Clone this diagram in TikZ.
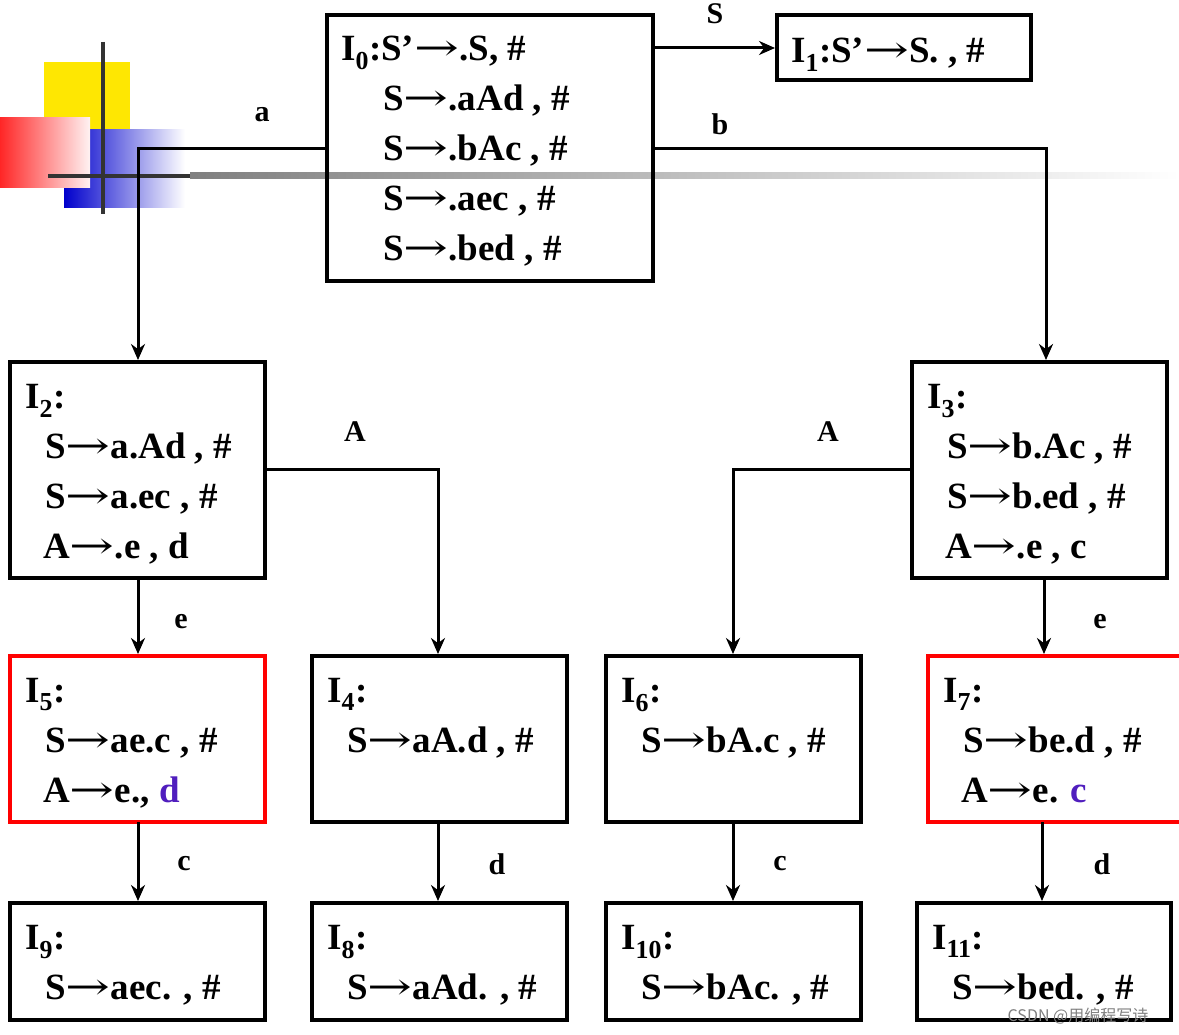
\documentclass[tikz,border=0pt]{standalone}
\usepackage{fontspec}
\setmainfont{Liberation Serif}
\newfontfamily\cjk{Noto Sans CJK SC}
\newfontfamily\arf{DejaVu Serif}
\usetikzlibrary{arrows.meta}
\definecolor{dpurple}{RGB}{80,30,190}
\newcommand{\ar}{\scalebox{1.45}[1]{\arf\mdseries →}}
\begin{document}
\begin{tikzpicture}[x=1pt,y=-1pt,
  box/.style={draw,line width=3.2pt},
  rbox/.style={draw=red,line width=3.2pt},
  txt/.style={anchor=north west,align=left,inner sep=0pt,font=\fontsize{37}{50}\selectfont\bfseries},
  lab/.style={font=\fontsize{30}{30}\selectfont\bfseries},
  arr/.style={line width=3pt,-{Stealth[length=16pt,width=14pt]}}]
\useasboundingbox (0,0) rectangle (1179,1035);
% background decoration
\fill[white] (0,0) rectangle (1179,1035);
\fill[yellow!90!orange] (44,62) rectangle (130,130);
\shade[left color=blue!80!black,right color=white] (64,130) rectangle (185,208);
\shade[left color=red!85,right color=red!5] (0,118) rectangle (90,188);
\draw[line width=4pt,black!80] (103,42) -- (103,214);
\draw[line width=4pt,black!80] (48,176) -- (190,176);
\shade[left color=black!50,right color=white] (190,173) rectangle (1179,179);
% boxes
\draw[box] (327,15) rectangle (653,281);
\draw[box] (777,15) rectangle (1031,80);
\draw[box] (10,362) rectangle (265,578);
\draw[box] (912,362) rectangle (1167,578);
\draw[rbox] (10,656) rectangle (265,822);
\draw[box] (312,656) rectangle (567,822);
\draw[box] (606,656) rectangle (861,822);
\draw[rbox] (928,656) rectangle (1181,822);
\draw[box] (10,903) rectangle (265,1020);
\draw[box] (312,903) rectangle (567,1020);
\draw[box] (606,903) rectangle (861,1020);
\draw[box] (917,903) rectangle (1171,1020);
% texts
\node[txt] (t0) at (341,36) {I\textsubscript{0}:S’\ar.S, \#\\\hspace*{42pt}S\ar.aAd , \#\\\hspace*{42pt}S\ar.bAc , \#\\\hspace*{42pt}S\ar.aec , \#\\\hspace*{42pt}S\ar.bed , \#};
\node[txt] (t1) at (791,38) {I\textsubscript{1}:S’\ar S. , \#};
\node[txt] (t2) at (25,384) {I\textsubscript{2}:\\\hspace*{20pt}S\ar a.Ad , \#\\\hspace*{20pt}S\ar a.ec , \#\\\hspace*{18pt}A\ar.e , d};
\node[txt] (t3) at (927,384) {I\textsubscript{3}:\\\hspace*{20pt}S\ar b.Ac , \#\\\hspace*{20pt}S\ar b.ed , \#\\\hspace*{18pt}A\ar.e , c};
\node[txt] (t5) at (25,678) {I\textsubscript{5}:\\\hspace*{20pt}S\ar ae.c , \#\\\hspace*{18pt}A\ar e., \textcolor{dpurple}{d}};
\node[txt] (t4) at (327,678) {I\textsubscript{4}:\\\hspace*{20pt}S\ar aA.d , \#};
\node[txt] (t6) at (621,678) {I\textsubscript{6}:\\\hspace*{20pt}S\ar bA.c , \#};
\node[txt] (t7) at (943,678) {I\textsubscript{7}:\\\hspace*{20pt}S\ar be.d , \#\\\hspace*{18pt}A\ar e. \textcolor{dpurple}{c}};
\node[txt] (t9) at (25,925) {I\textsubscript{9}:\\\hspace*{20pt}S\ar aec. , \#};
\node[txt] (t8) at (327,925) {I\textsubscript{8}:\\\hspace*{20pt}S\ar aAd. , \#};
\node[txt] (t10) at (621,925) {I\textsubscript{10}:\\\hspace*{20pt}S\ar bAc. , \#};
\node[txt] (t11) at (932,925) {I\textsubscript{11}:\\\hspace*{20pt}S\ar bed. , \#};
% connectors
\coordinate (a0) at (327,149); \coordinate (a1) at (138,149); \coordinate (a2) at (138,360);
\coordinate (b0) at (653,149); \coordinate (b1) at (1046,149); \coordinate (b2) at (1046,360);
\draw[arr] (653,48) -- (775,48);
\draw[arr] (a0) -- (a1) -- (a2);
\draw[arr] (b0) -- (b1) -- (b2);
\draw[arr] (265,469) -- (438,469) -- (438,654);
\draw[arr] (912,469) -- (733,469) -- (733,654);
\draw[arr] (138,578) -- (138,654);
\draw[arr] (1044,578) -- (1044,654);
\draw[arr] (138,822) -- (138,901);
\draw[arr] (438,822) -- (438,901);
\draw[arr] (733,822) -- (733,901);
\draw[arr] (1042,822) -- (1042,901);
% labels
\node[lab] (lS) at (715,14) {S};
\node[lab] (la) at (262,115) {a};
\node[lab] (lb) at (720,124) {b};
\node[lab] (lA1) at (355,432) {A};
\node[lab] (lA2) at (828,432) {A};
\node[lab] (le1) at (181,622) {e};
\node[lab] (le2) at (1100,622) {e};
\node[lab] (lc1) at (184,864) {c};
\node[lab] (ld1) at (497,864) {d};
\node[lab] (lc2) at (780,864) {c};
\node[lab] (ld2) at (1102,864) {d};
\node[font=\fontsize{16}{16}\selectfont\cjk,text=gray] (wm) at (1078,1016) {CSDN @用编程写诗};
\end{tikzpicture}
\end{document}
